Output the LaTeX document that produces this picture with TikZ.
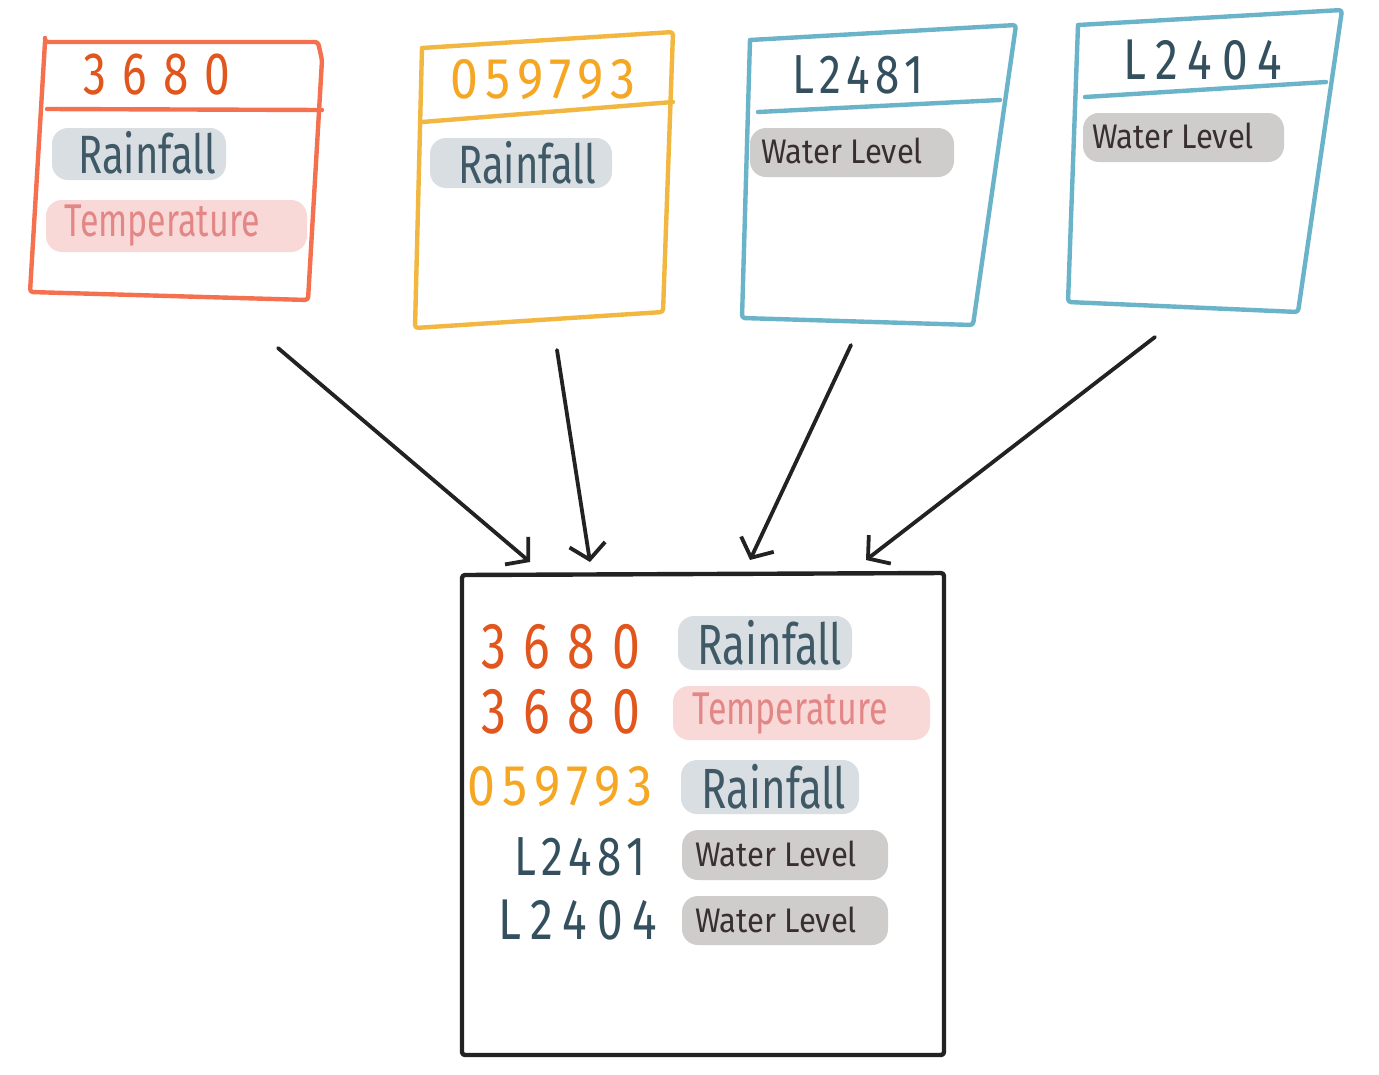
\documentclass[tikz,border=0pt]{standalone}
\usepackage{graphicx}
\usepackage{fontspec}
\setmainfont{Fira Sans}
\newfontfamily\widefont[LetterSpace=35]{Fira Sans}
\newfontfamily\midfont[LetterSpace=14]{Fira Sans}
\newfontfamily\widerfont[LetterSpace=22]{Fira Sans}
\usetikzlibrary{arrows.meta}
\definecolor{coral}{HTML}{F5704F}
\definecolor{redtxt}{HTML}{E0561C}
\definecolor{yelbox}{HTML}{F2B740}
\definecolor{yeltxt}{HTML}{F5A623}
\definecolor{bluebox}{HTML}{6BB3C9}
\definecolor{slate}{HTML}{34505E}
\definecolor{rainhl}{HTML}{D9DEE2}
\definecolor{rainth}{HTML}{3F5A66}
\definecolor{temphl}{HTML}{F9D8D8}
\definecolor{temptx}{HTML}{E28686}
\definecolor{waterhl}{HTML}{CFCCCC}
\definecolor{watertx}{HTML}{3A2F30}
\definecolor{ink}{HTML}{222222}
\newcommand{\tall}[2]{\scalebox{1}[#1]{#2}}
\tikzset{
  sketch/.style={line width=4.4pt, line join=round, line cap=round, rounded corners=3pt},
  hl/.style={rounded corners=16pt, draw=none},
  arrowline/.style={ink, line width=3.8pt, line cap=round, -{Straight Barb[length=15pt,width=36pt,line width=3.8pt]}},
  idtxt/.style={inner sep=0pt, anchor=center},
}
\begin{document}
\begin{tikzpicture}[x=1pt,y=-1pt]
\useasboundingbox (0,0) rectangle (1379,1074);
\fill[white] (0,0) rectangle (1379,1074);

% ---------- Box 1 ----------
\draw[sketch, coral] (45,38) -- (45,42) -- (318,42) -- (322,60) -- (308,300) -- (30,292) -- (45,42);
\draw[sketch, coral] (47,109) -- (322,110);
\node[idtxt, redtxt, font=\widefont\fontsize{46}{50}\selectfont] (t1) at (157,75) {\tall{1.3}{3680}};
\fill[hl, rainhl] (52,128) rectangle (226,180);
\node[idtxt, rainth, font=\fontsize{40}{44}\selectfont] (r1) at (147,153) {\tall{1.35}{Rainfall}};
\fill[hl, temphl] (46,200) rectangle (307,252);
\node[idtxt, temptx, font=\fontsize{34}{38}\selectfont] (p1) at (162,226) {\tall{1.35}{Temperature}};

% ---------- Box 2 ----------
\draw[sketch, yelbox] (422,48) -- (673,32) -- (663,312) -- (415,328) -- (422,48);
\draw[sketch, yelbox] (422,122) -- (673,102);
\node[idtxt, yeltxt, font=\midfont\fontsize{50}{54}\selectfont] (t2) at (543,80) {\tall{1.15}{059793}};
\fill[hl, rainhl] (430,138) rectangle (612,188);
\node[idtxt, rainth, font=\fontsize{40}{44}\selectfont] (r2) at (527,163) {\tall{1.35}{Rainfall}};

% ---------- Box 3 ----------
\draw[sketch, bluebox] (750,40) -- (1016,25) -- (973,325) -- (742,318) -- (750,40);
\draw[sketch, bluebox] (758,112) -- (1000,100);
\node[idtxt, slate, font=\midfont\fontsize{44}{48}\selectfont] (t3) at (858,75) {\tall{1.25}{L2481}};
\fill[hl, waterhl] (750,128) rectangle (954,177);
\node[idtxt, watertx, font=\fontsize{31}{36}\selectfont] (w3) at (842,151) {\tall{1.1}{Water Level}};

% ---------- Box 4 ----------
\draw[sketch, bluebox] (1078,25) -- (1342,10) -- (1298,312) -- (1068,302) -- (1078,25);
\draw[sketch, bluebox] (1085,97) -- (1326,82);
\node[idtxt, slate, font=\widerfont\fontsize{46}{50}\selectfont] (t4) at (1203,60) {\tall{1.25}{L2404}};
\fill[hl, waterhl] (1083,113) rectangle (1284,162);
\node[idtxt, watertx, font=\fontsize{31}{36}\selectfont] (w4) at (1173,136) {\tall{1.1}{Water Level}};

% ---------- Arrows ----------
\coordinate (a1s) at (278,348); \coordinate (a1e) at (530,562);
\coordinate (a2s) at (557,350); \coordinate (a2e) at (590,562);
\coordinate (a3s) at (851,345); \coordinate (a3e) at (750,560);
\coordinate (a4s) at (1155,337); \coordinate (a4e) at (866,560);
\draw[arrowline] (a1s) -- (a1e);
\draw[arrowline] (a2s) -- (a2e);
\draw[arrowline] (a3s) -- (a3e);
\draw[arrowline] (a4s) -- (a4e);

% ---------- Main box ----------
\draw[sketch, ink] (462,575) -- (944,573) -- (944,1055) -- (462,1055) -- cycle;

\node[idtxt, redtxt, font=\widefont\fontsize{50}{54}\selectfont] (m1) at (561,647) {\tall{1.3}{3680}};
\fill[hl, rainhl] (678,616) rectangle (852,670);
\node[idtxt, rainth, font=\fontsize{42}{46}\selectfont] (mr1) at (770,643) {\tall{1.35}{Rainfall}};

\node[idtxt, redtxt, font=\widefont\fontsize{50}{54}\selectfont] (m2) at (561,712) {\tall{1.3}{3680}};
\fill[hl, temphl] (673,686) rectangle (930,740);
\node[idtxt, temptx, font=\fontsize{34}{38}\selectfont] (mp2) at (790,714) {\tall{1.35}{Temperature}};

\node[idtxt, yeltxt, font=\midfont\fontsize{50}{54}\selectfont] (m3) at (560,787) {\tall{1.15}{059793}};
\fill[hl, rainhl] (681,760) rectangle (859,814);
\node[idtxt, rainth, font=\fontsize{42}{46}\selectfont] (mr3) at (774,787) {\tall{1.35}{Rainfall}};

\node[idtxt, slate, font=\midfont\fontsize{44}{48}\selectfont] (m4) at (580,857) {\tall{1.25}{L2481}};
\fill[hl, waterhl] (682,830) rectangle (888,880);
\node[idtxt, watertx, font=\fontsize{31}{36}\selectfont] (mw4) at (776,854) {\tall{1.1}{Water Level}};

\node[idtxt, slate, font=\widerfont\fontsize{46}{50}\selectfont] (m5) at (578,920) {\tall{1.25}{L2404}};
\fill[hl, waterhl] (682,896) rectangle (888,945);
\node[idtxt, watertx, font=\fontsize{31}{36}\selectfont] (mw5) at (776,920) {\tall{1.1}{Water Level}};
\end{tikzpicture}
\end{document}
